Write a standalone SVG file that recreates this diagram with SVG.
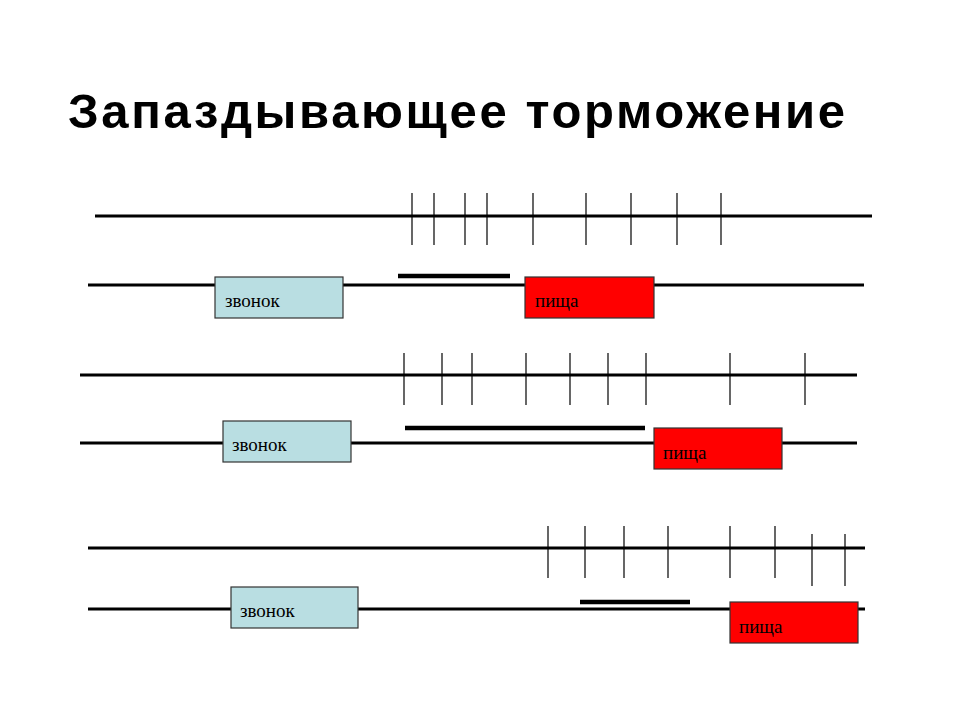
<svg xmlns="http://www.w3.org/2000/svg" width="960" height="720" viewBox="0 0 960 720">
<style>
.ln{stroke:#000;stroke-width:3}
.tk{stroke:#000;stroke-width:1.2}
.bar{stroke:#000;stroke-width:4.5}
.zv{fill:#b9dee2;stroke:#333;stroke-width:1.2}
.pz{fill:#ff0000;stroke:#333;stroke-width:1.2}
.lb{font-family:"Liberation Serif",serif;font-size:19px;fill:#000}
</style>
<rect width="960" height="720" fill="#fff"/>
<text x="68" y="128" font-family="Liberation Sans,Arial,sans-serif" font-size="49" font-weight="bold" textLength="777">Запаздывающее торможение</text>
<g id="connectors">
<line class="ln" x1="95" y1="216" x2="872" y2="216"/>
<line class="ln" x1="88" y1="285" x2="864" y2="285"/>
<line class="bar" x1="398" y1="276" x2="510" y2="276"/>
<g class="tk">
<line x1="412" y1="193" x2="412" y2="245"/><line x1="434" y1="193" x2="434" y2="245"/><line x1="465" y1="193" x2="465" y2="245"/><line x1="487" y1="193" x2="487" y2="245"/><line x1="533" y1="193" x2="533" y2="245"/><line x1="586" y1="193" x2="586" y2="245"/><line x1="631" y1="193" x2="631" y2="245"/><line x1="677" y1="193" x2="677" y2="245"/><line x1="721" y1="193" x2="721" y2="245"/>
</g>
<line class="ln" x1="80" y1="375" x2="857" y2="375"/>
<line class="ln" x1="80" y1="443" x2="857" y2="443"/>
<line class="bar" x1="405" y1="428" x2="645" y2="428"/>
<g class="tk">
<line x1="404" y1="353" x2="404" y2="405"/><line x1="442" y1="353" x2="442" y2="405"/><line x1="472" y1="353" x2="472" y2="405"/><line x1="526" y1="353" x2="526" y2="405"/><line x1="570" y1="353" x2="570" y2="405"/><line x1="608" y1="353" x2="608" y2="405"/><line x1="646" y1="353" x2="646" y2="405"/><line x1="730" y1="353" x2="730" y2="405"/><line x1="805" y1="353" x2="805" y2="405"/>
</g>
<line class="ln" x1="88" y1="548" x2="865" y2="548"/>
<line class="ln" x1="88" y1="609" x2="865" y2="609"/>
<line class="bar" x1="580" y1="602" x2="690" y2="602"/>
<g class="tk">
<line x1="548" y1="526" x2="548" y2="578"/><line x1="585" y1="526" x2="585" y2="578"/><line x1="624" y1="526" x2="624" y2="578"/><line x1="668" y1="526" x2="668" y2="578"/><line x1="730" y1="526" x2="730" y2="578"/><line x1="775" y1="526" x2="775" y2="578"/><line x1="812" y1="534" x2="812" y2="586"/><line x1="845" y1="534" x2="845" y2="586"/>
</g>
</g>
<g id="zvonok1"><rect class="zv" x="215" y="277" width="128" height="41"/><text class="lb" x="225" y="307">звонок</text></g>
<g id="pizza1"><rect class="pz" x="525" y="277" width="129" height="41"/><text class="lb" x="535" y="307">пища</text></g>
<g id="zvonok2"><rect class="zv" x="223" y="421" width="128" height="41"/><text class="lb" x="232" y="451">звонок</text></g>
<g id="pizza2"><rect class="pz" x="654" y="428" width="128" height="41"/><text class="lb" x="663" y="459">пища</text></g>
<g id="zvonok3"><rect class="zv" x="231" y="587" width="127" height="41"/><text class="lb" x="240" y="617">звонок</text></g>
<g id="pizza3"><rect class="pz" x="730" y="602" width="128" height="41"/><text class="lb" x="739" y="633">пища</text></g>
</svg>
